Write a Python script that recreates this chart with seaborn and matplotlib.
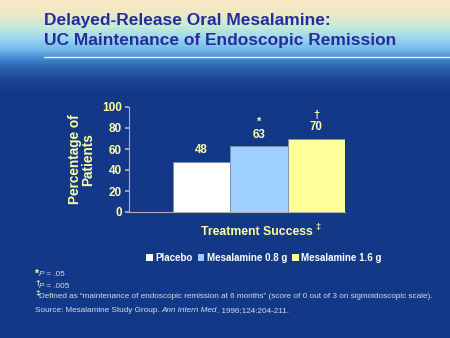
import numpy as np
import pandas as pd
import matplotlib
matplotlib.use("Agg")
import matplotlib.pyplot as plt
from matplotlib.colors import LinearSegmentedColormap
from matplotlib.patches import Rectangle
import seaborn as sns

categories = ["Treatment Success"]
groups = ["Placebo", "Mesalamine 0.8 g", "Mesalamine 1.6 g"]
values = [48, 63, 70]
markers = ["", "*", "\u2020"]
yticks = [0, 20, 40, 60, 80, 100]

BG = "#143888"
YEL = "#ffffa0"
bar_colors = ["#ffffff", "#9fcfff", "#ffff99"]

df = pd.DataFrame({"cat": categories * len(groups), "group": groups, "val": values})

sns.set_theme(style="white")
plt.rcParams['font.family'] = ['Liberation Sans', 'DejaVu Sans']

fig = plt.figure(figsize=(4.5, 3.38), dpi=100, facecolor=BG)

# header gradient
gax = fig.add_axes([0, 1 - 92 / 338, 1, 92 / 338])
gax.set_axis_off()
stops = [(0.0, "#f6eac4"), (0.14, "#f3e8c6"), (0.3, "#c4ead8"), (0.42, "#9ad8f0"),
         (0.55, "#70b6ea"), (0.62, "#4c90d8"), (0.72, "#2f68b8"), (0.84, "#1f4a9c"), (1.0, BG)]
cmap = LinearSegmentedColormap.from_list("hdr", stops)
grad = np.linspace(0, 1, 256).reshape(-1, 1)
gax.imshow(grad, aspect="auto", cmap=cmap, extent=[0, 1, 1, 0])
gax.set_xlim(0, 1); gax.set_ylim(1, 0)
gax.plot([44 / 450, 1], [57 / 92, 57 / 92], color="#fff4c0", lw=1.0)

fig.text(44 / 450, 1 - 21 / 338, "Delayed-Release Oral Mesalamine:", color="#2b2a9c",
         fontsize=12.5, fontweight="bold", va="center", ha="left")
fig.text(44 / 450, 1 - 41 / 338, "UC Maintenance of Endoscopic Remission", color="#2b2a9c",
         fontsize=12.5, fontweight="bold", va="center", ha="left")

# chart axes
x0, x1 = 129, 345
y0, y1 = 212, 107
ax = fig.add_axes([x0 / 450, 1 - y0 / 338, (x1 - x0) / 450, (y0 - y1) / 338])
ax.set_facecolor(BG)
sns.barplot(data=df, x="cat", y="val", hue="group", palette=bar_colors, ax=ax,
            width=0.8, edgecolor="#7f8fa8", linewidth=0.6, legend=False, saturation=1)
ax.set_xlim(-0.605, 0.4)
ax.set_ylim(0, 100)
ax.set_yticks(yticks)
ax.set_yticklabels([str(t) for t in yticks], color=YEL, fontsize=8.5, fontweight="bold")
ax.set_xticks([])
ax.set_xlabel("")
ax.set_ylabel("Percentage of\nPatients", color=YEL, fontsize=9.8, fontweight="bold",
              labelpad=5, linespacing=0.95)
for s in ["top", "right"]:
    ax.spines[s].set_visible(False)
for s in ["left", "bottom"]:
    ax.spines[s].set_color("#b0b0b0")
    ax.spines[s].set_linewidth(0.8)
ax.tick_params(axis="y", length=3, color="#b0b0b0", left=True, pad=2)

bars = [p for p in ax.patches if isinstance(p, Rectangle) and p.get_height() > 0]
bars = sorted(bars, key=lambda p: p.get_x())
for p, v, m in zip(bars, values, markers):
    cx = p.get_x() + p.get_width() / 2
    ax.text(cx, v + 5, str(v), color=YEL, fontsize=8.3, fontweight="bold",
            ha="center", va="bottom")
    if m:
        ax.text(cx, v + 18, m, color=YEL, fontsize=8, fontweight="bold",
                ha="center", va="bottom")

fig.text(257 / 450, 1 - 232 / 338, "Treatment Success", color=YEL, fontsize=8.8,
         fontweight="bold", ha="center", va="center")
fig.text(318 / 450, 1 - 228 / 338, "\u2021", color=YEL, fontsize=6.5,
         fontweight="bold", ha="center", va="center")

# legend
handles = [Rectangle((0, 0), 1, 1, facecolor=c, edgecolor="none") for c in bar_colors]
leg = fig.legend(handles, groups, loc="center", bbox_to_anchor=(264 / 450, 1 - 258 / 338),
                 ncol=3, frameon=False, fontsize=7, handlelength=0.7, handleheight=0.7,
                 handletextpad=0.25, columnspacing=0.5)
for t in leg.get_texts():
    t.set_color("white"); t.set_fontweight("bold")

# footnotes
FN = "#d4dcec"
fs = 5.9
def seq(x, y, parts):
    """draw consecutive text parts (text, style) starting at x pixel."""
    r = fig.canvas.get_renderer()
    xf = x / 450
    for txt, st in parts:
        t = fig.text(xf, 1 - y / 338, txt, color=FN, fontsize=fs, style=st,
                     ha="left", va="center")
        bb = t.get_window_extent(renderer=r)
        xf = bb.x1 / fig.bbox.width

fig.text(35 / 450, 1 - 274 / 338, "*", color=YEL, fontsize=fs + 1.5, fontweight="bold", va="center")
seq(39, 275, [("P", "italic"), (" = .05", "normal")])
fig.text(35 / 450, 1 - 284 / 338, "\u2020", color=YEL, fontsize=fs, fontweight="bold", va="center")
seq(39, 286, [("P", "italic"), (" = .005", "normal")])
fig.text(35 / 450, 1 - 294 / 338, "\u2021", color=YEL, fontsize=fs, fontweight="bold", va="center")
seq(39, 296, [("Defined as \u201cmaintenance of endoscopic remission at 6 months\u201d (score of 0 out of 3 on sigmoidoscopic scale).", "normal")])
seq(35, 311, [("Source: Mesalamine Study Group. ", "normal"), ("Ann Intern Med", "italic"),
              (". 1996;124:204-211.", "normal")])

fig.savefig("out.png", dpi=100, facecolor=BG)
